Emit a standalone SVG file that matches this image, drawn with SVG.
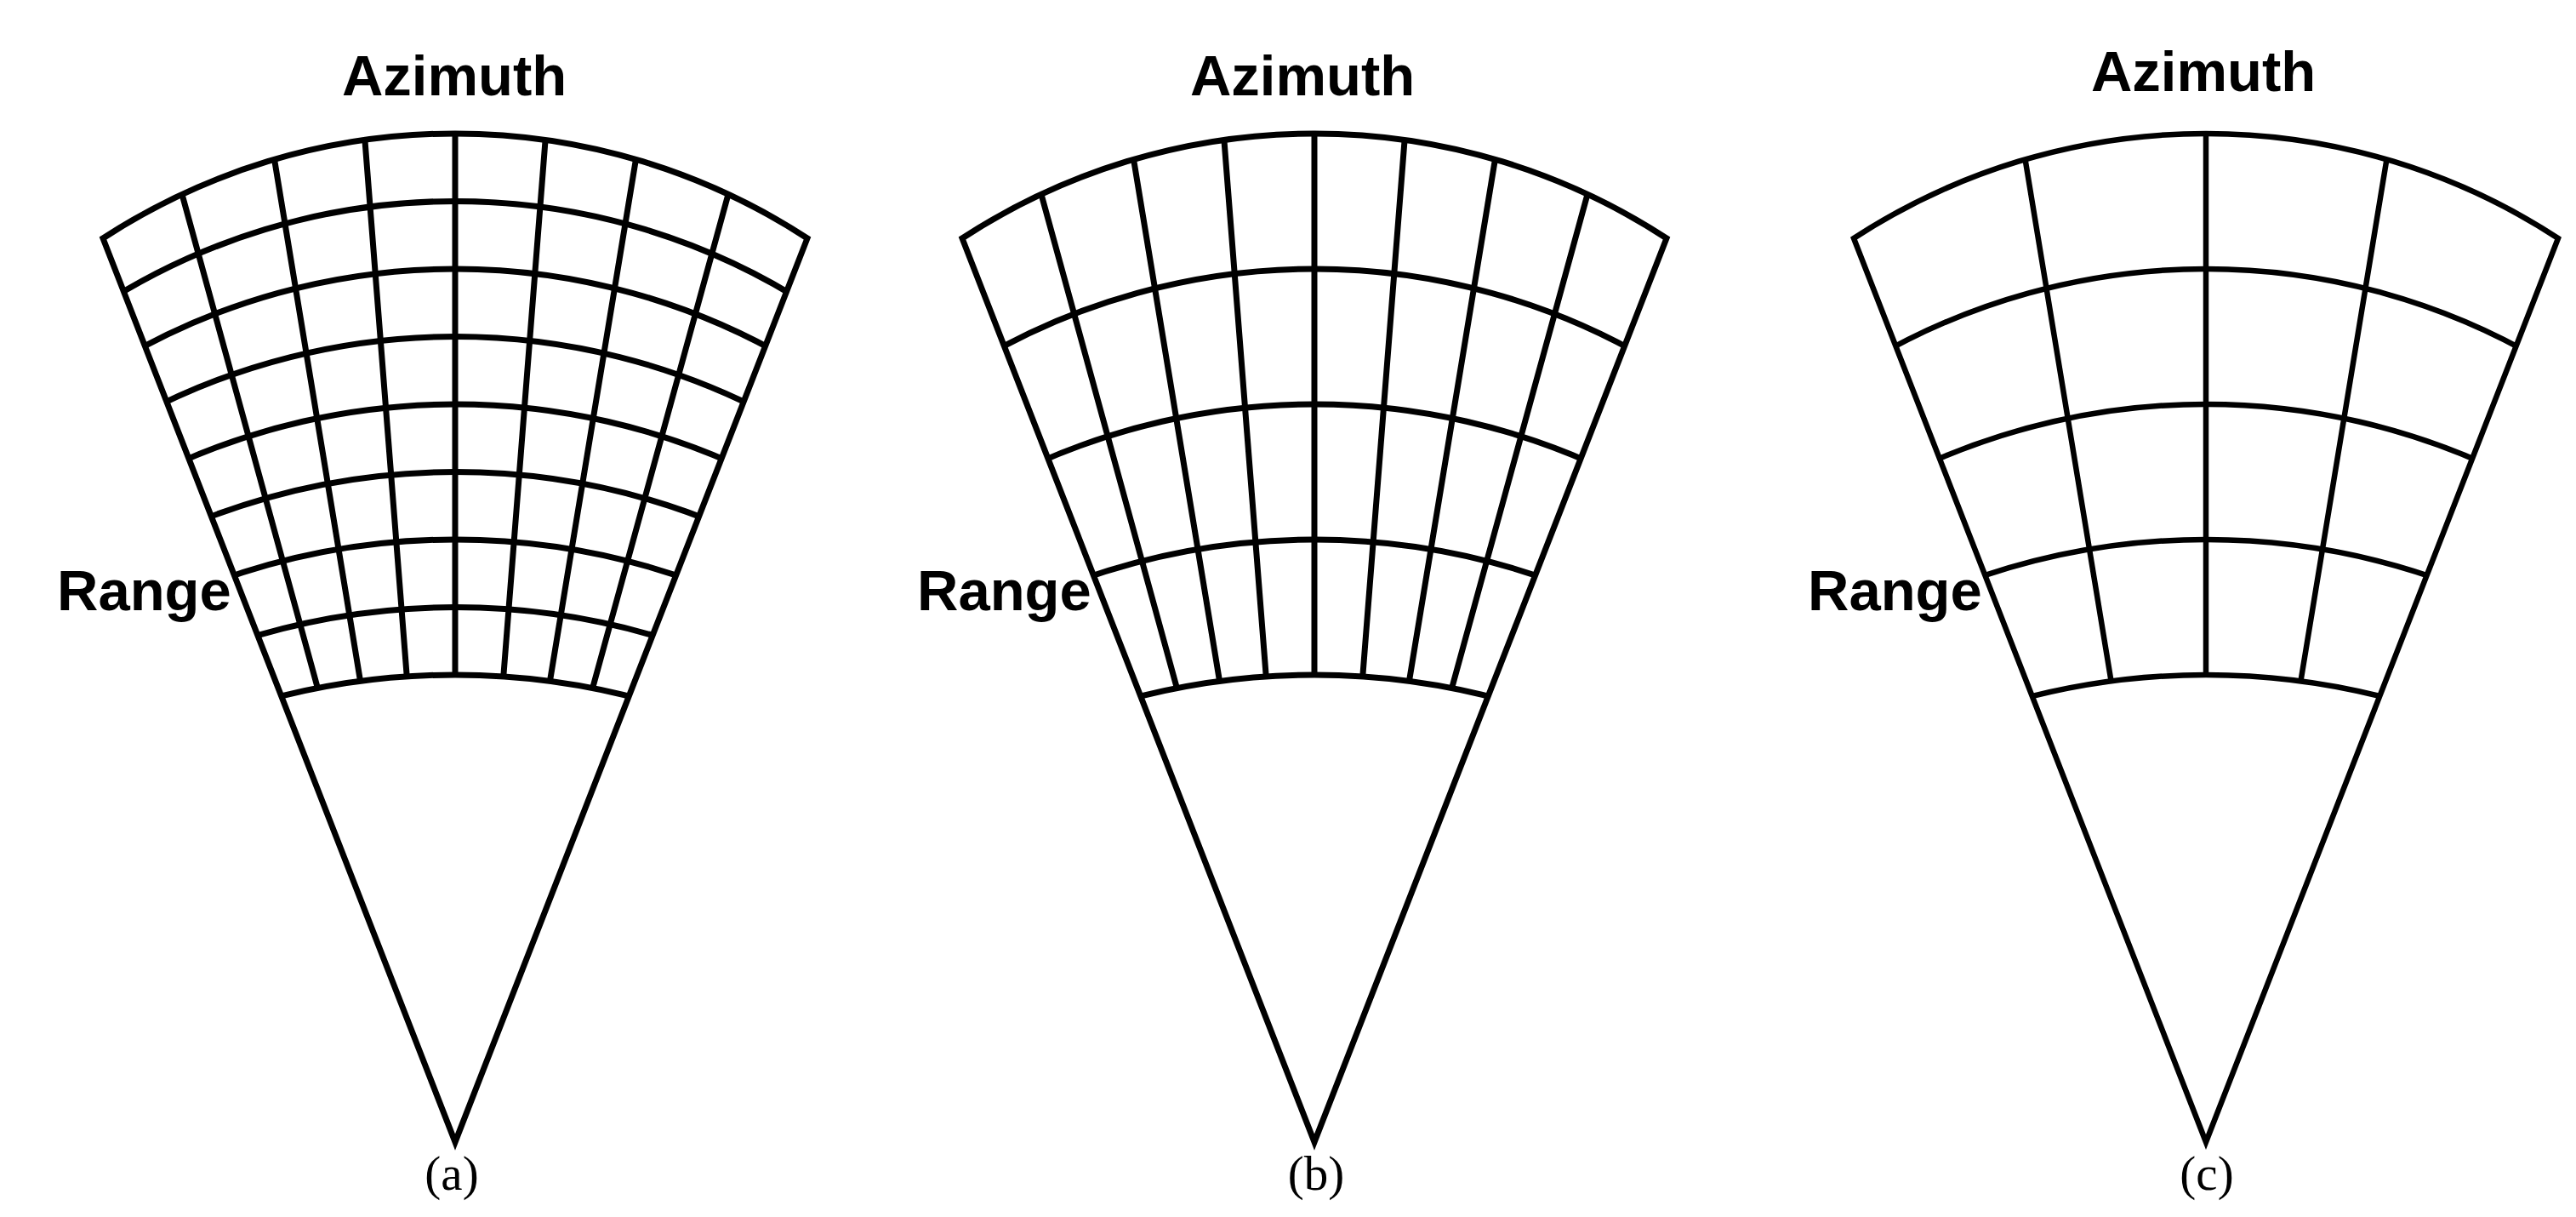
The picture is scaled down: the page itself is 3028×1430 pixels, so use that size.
<svg xmlns="http://www.w3.org/2000/svg" width="3028" height="1430" viewBox="0 0 3028 1430">
<style>
.ln{fill:none;stroke:#000;stroke-width:7;stroke-linejoin:miter;stroke-miterlimit:10}
.thin .ln{stroke-width:6.5}
.lab{font-family:"Liberation Sans",Arial,sans-serif;font-weight:bold;font-size:67px;fill:#000}
.cap{font-family:"Liberation Serif","Times New Roman",serif;font-size:57px;fill:#000;text-anchor:middle}
</style>
<defs>
<clipPath id="wedge" clipPathUnits="userSpaceOnUse"><polygon points="0,1342 -523.2,0 523.2,0"/></clipPath>
<clipPath id="grid" clipPathUnits="userSpaceOnUse"><path d="M -414 280 A 758 758 0 0 1 414 280 L 204.3 818 A 846 846 0 0 0 -204.3 818 Z"/></clipPath>
<path id="k1" d="M -420 361.3 A 769 769 0 0 1 420 361.3"/>
<path id="k2" d="M -395 423.4 A 780 780 0 0 1 395 423.4"/>
<path id="k3" d="M -370 487.4 A 791 791 0 0 1 370 487.4"/>
<path id="k4" d="M -345 553 A 802 802 0 0 1 345 553"/>
<path id="k5" d="M -318 619.3 A 813 813 0 0 1 318 619.3"/>
<path id="k6" d="M -290 686.7 A 824 824 0 0 1 290 686.7"/>
<path id="k7" d="M -262 755.7 A 835 835 0 0 1 262 755.7"/>
<path id="k8" d="M -234 826 A 846 846 0 0 1 234 826"/>
<path id="outline" d="M 0 1342 L -414 280 A 758 758 0 0 1 414 280 Z"/>
<path id="r0" d="M 0 140 L 0 812"/>
<path id="r1" d="M -107.6 145 L -55.2 815 M 107.6 145 L 55.2 815"/>
<path id="r2" d="M -215.3 170 L -108.2 820 M 215.3 170 L 108.2 820"/>
<path id="r3" d="M -325.5 212 L -155.7 830 M 325.5 212 L 155.7 830"/>
</defs>

<g id="panel-a" transform="translate(535,0)">
  <g class="ln" clip-path="url(#grid)">
    <use href="#r0"/><use href="#r1"/><use href="#r2"/><use href="#r3"/>
  </g>
  <g class="ln" clip-path="url(#wedge)">
    <use href="#k1"/><use href="#k2"/><use href="#k3"/><use href="#k4"/>
    <use href="#k5"/><use href="#k6"/><use href="#k7"/><use href="#k8"/>
  </g>
  <use href="#outline" class="ln"/>
</g>
<g id="panel-b" transform="translate(1545,0)">
  <g class="ln" clip-path="url(#grid)">
    <use href="#r0"/><use href="#r1"/><use href="#r2"/><use href="#r3"/>
  </g>
  <g class="ln" clip-path="url(#wedge)">
    <use href="#k2"/><use href="#k4"/><use href="#k6"/><use href="#k8"/>
  </g>
  <use href="#outline" class="ln"/>
</g>
<g id="panel-c" class="thin" transform="translate(2593,0)">
  <g class="ln" clip-path="url(#grid)">
    <use href="#r0"/><use href="#r2"/>
  </g>
  <g class="ln" clip-path="url(#wedge)">
    <use href="#k2"/><use href="#k4"/><use href="#k6"/><use href="#k8"/>
  </g>
  <use href="#outline" class="ln"/>
</g>

<g id="labels">
  <text class="lab" x="534" y="112" text-anchor="middle">Azimuth</text>
  <text class="lab" x="1531" y="112" text-anchor="middle">Azimuth</text>
  <text class="lab" x="2590" y="107" text-anchor="middle">Azimuth</text>
  <text class="lab" x="67" y="717">Range</text>
  <text class="lab" x="1078" y="717">Range</text>
  <text class="lab" x="2125" y="717">Range</text>
  <text class="cap" x="531" y="1398">(a)</text>
  <text class="cap" x="1547" y="1398">(b)</text>
  <text class="cap" x="2594" y="1398">(c)</text>
</g>
</svg>
